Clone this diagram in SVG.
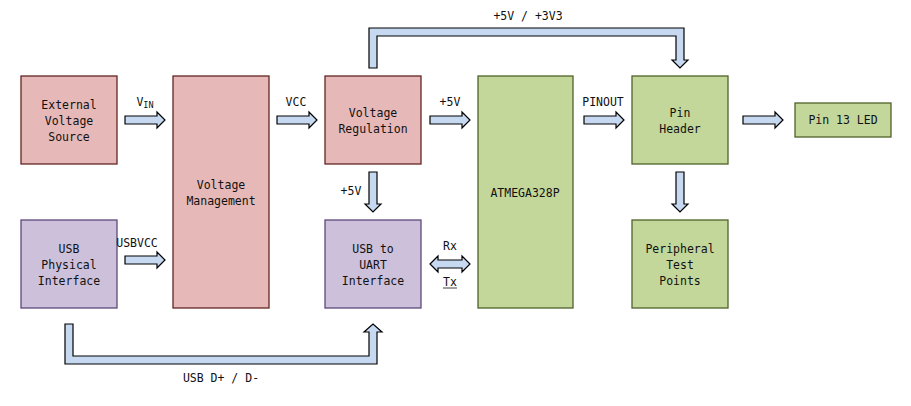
<svg xmlns="http://www.w3.org/2000/svg" width="911" height="406" viewBox="0 0 911 406">
<style>
text{font-family:"DejaVu Sans Mono","Liberation Mono",monospace;font-size:11.5px;fill:#111;text-anchor:middle}
.r{fill:#e6b8b7;stroke:#632523;stroke-width:1.3}
.p{fill:#ccc0da;stroke:#5f497a;stroke-width:1.3}
.g{fill:#c4d79b;stroke:#4f6228;stroke-width:1.3}
.a{fill:#c6d9f1;stroke:#000;stroke-width:1.2;stroke-linejoin:miter}
</style>
<rect width="911" height="406" fill="#fff"/>
<g id="ext"><rect class="r" x="21" y="76" width="96" height="88"/><text x="69" y="109">External</text><text x="69" y="125">Voltage</text><text x="69" y="141">Source</text></g>
<g id="vman"><rect class="r" x="173" y="76" width="96" height="232"/><text x="221" y="189">Voltage</text><text x="221" y="205">Management</text></g>
<g id="vreg"><rect class="r" x="325" y="76" width="96" height="88"/><text x="373" y="117">Voltage</text><text x="373" y="133">Regulation</text></g>
<g id="usbphy"><rect class="p" x="21" y="220" width="96" height="88"/><text x="69" y="253">USB</text><text x="69" y="269">Physical</text><text x="69" y="285">Interface</text></g>
<g id="uart"><rect class="p" x="325" y="220" width="96" height="88"/><text x="373" y="253">USB to</text><text x="373" y="269">UART</text><text x="373" y="285">Interface</text></g>
<g id="mcu"><rect class="g" x="478" y="76" width="95" height="232"/><text x="525" y="197">ATMEGA328P</text></g>
<g id="pinhdr"><rect class="g" x="632" y="76" width="96" height="88"/><text x="680" y="117">Pin</text><text x="680" y="133">Header</text></g>
<g id="periph"><rect class="g" x="632" y="220" width="96" height="88"/><text x="680" y="253">Peripheral</text><text x="680" y="269">Test</text><text x="680" y="285">Points</text></g>
<g id="led"><rect class="g" x="795" y="103" width="96" height="34"/><text x="843" y="124">Pin 13 LED</text></g>
<g id="connectors">
<polygon class="a" points="125,116 157,116 157,112 165,120 157,128 157,124 125,124"/>
<text x="145" y="106">V<tspan font-size="8.5" dy="2">IN</tspan></text>
<polygon class="a" points="277,116 309,116 309,112 317,120 309,128 309,124 277,124"/>
<text x="296" y="106">VCC</text>
<polygon class="a" points="430,116 462,116 462,112 470,120 462,128 462,124 430,124"/>
<text x="450" y="106">+5V</text>
<polygon class="a" points="584,116 616,116 616,112 624,120 616,128 616,124 584,124"/>
<text x="603" y="106">PINOUT</text>
<polygon class="a" points="743,116 775,116 775,112 783,120 775,128 775,124 743,124"/>
<polygon class="a" points="125,256 157,256 157,252 165,260 157,268 157,264 125,264"/>
<text x="137" y="247">USBVCC</text>
<polygon class="a" points="369,172 377,172 377,204 381,204 373,212 365,204 369,204"/>
<text x="351" y="195">+5V</text>
<polygon class="a" points="676,172 684,172 684,204 688,204 680,212 672,204 676,204"/>
<polygon class="a" points="430,264 438,256 438,260 462,260 462,256 470,264 462,272 462,268 438,268 438,272"/>
<text x="450" y="250">Rx</text>
<text x="450" y="286">Tx</text>
<line x1="443" y1="288" x2="457" y2="288" stroke="#111" stroke-width="0.8"/>
<polygon class="a" points="65,324 73,324 73,356 369,356 369,332 364,332 373,324 382,332 377,332 377,364 65,364"/>
<text x="221" y="382">USB D+ / D-</text>
<polygon class="a" points="369,68 369,28 684,28 684,60 688,60 680,68 672,60 676,60 676,36 377,36 377,68"/>
<text x="528" y="20">+5V / +3V3</text>
</g>
</svg>
